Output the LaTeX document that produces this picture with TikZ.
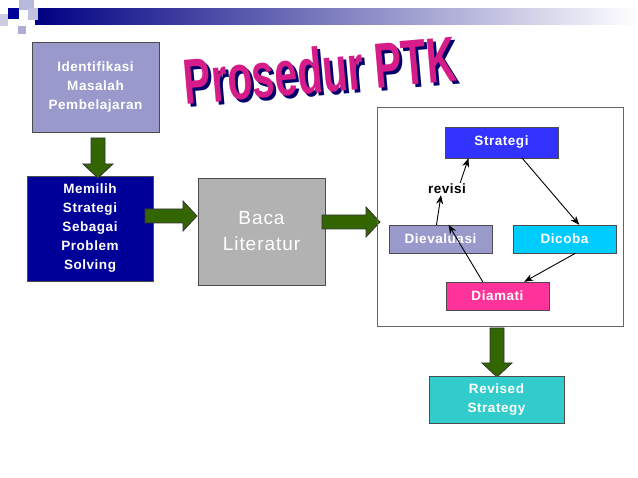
\documentclass[tikz,border=0pt]{standalone}
\usepackage{fontspec}
\setmainfont{Liberation Sans}
\usetikzlibrary{arrows.meta,shadings}
\definecolor{navy}{HTML}{000099}
\definecolor{lav}{HTML}{9999CC}
\definecolor{grn}{HTML}{336600}
\definecolor{dicoba}{HTML}{00CCFF}
\definecolor{diamati}{HTML}{FF3399}
\definecolor{revcol}{HTML}{33CCCC}
\definecolor{strcol}{HTML}{3333FF}
\newcommand{\fatarr}[4]{% x,y of tail, angle, length
  \begin{scope}[shift={(#1,#2)},rotate=#3]
  \draw[fill=grn,draw=black!80,line width=0.8pt] (0,-7) -- (#4-14,-7) -- (#4-14,-15) -- (#4,0) -- (#4-14,15) -- (#4-14,7) -- (0,7) -- cycle;
  \end{scope}}
\tikzset{
  box/.style={draw=black!70,text=white,align=center,inner sep=2pt,font=\fontsize{13.5}{19}\selectfont\bfseries\addfontfeatures{LetterSpace=4}},
  thin/.style={-{Stealth[length=9pt,width=7pt]},line width=0.9pt}
}
\begin{document}
\begin{tikzpicture}[x=1pt,y=-1pt]
\useasboundingbox (0,0) rectangle (638,478);
% header
\shade[left color=navy!85!black,right color=white] (35,9) rectangle (638,25);
\fill[navy] (8,8) rectangle (19,19);
\fill[lav!70] (19,0) rectangle (34,10);
\fill[lav!60] (28,8) rectangle (38,20);
\fill[lav!50] (0,14) rectangle (8,26);
\fill[lav!80] (18,26) rectangle (26,34);
% title
\node[rotate=5,text=navy!70!black,font=\fontsize{64}{64}\selectfont\bfseries,xscale=0.64] at (323,73) {Prosedur PTK};
\node[rotate=5,text=magenta!75!violet,font=\fontsize{64}{64}\selectfont\bfseries,xscale=0.64] (title) at (320,70) {Prosedur PTK};
% left boxes
\node[box,fill=lav,minimum width=127pt,minimum height=90pt] (ident) at (95.5,87) {Identifikasi\\Masalah\\Pembelajaran};
\node[box,fill=navy,minimum width=126pt,minimum height=105pt] (pilih) at (90,228.5) {Memilih\\Strategi\\Sebagai\\Problem\\Solving};
\node[box,fill=black!30,minimum width=127pt,minimum height=107pt,font=\fontsize{19}{26}\selectfont\addfontfeatures{LetterSpace=5}] (baca) at (261.5,231.5) {Baca\\Literatur};
\fatarr{98}{138}{-90}{40}
\fatarr{145}{216}{0}{52}
\fatarr{322}{222}{0}{58}
% frame
\node[draw=black!60,minimum width=246pt,minimum height=219pt,inner sep=0pt] (frame) at (500,216.5) {};
\node[box,fill=strcol,minimum width=113pt,minimum height=31pt] (str) at (501.5,142.5) {Strategi};
\node[box,fill=lav,minimum width=103pt,minimum height=28pt] (eval) at (440.5,239) {Dievaluasi};
\node[box,fill=dicoba,minimum width=103pt,minimum height=28pt] (coba) at (564.5,239) {Dicoba};
\node[box,fill=diamati,minimum width=103pt,minimum height=28pt] (amat) at (497.5,296) {Diamati};
\node[box,text=black,draw=none,fill=white,inner sep=1pt] (rev) at (447,189) {revisi};
\draw[thin] ([xshift=-36pt]str.south east) -- ([xshift=-37pt]coba.north east);
\draw[thin] ([xshift=11pt]coba.south) -- ([xshift=-25pt]amat.north east);
\draw[thin] ([xshift=37pt]amat.north west) -- ([xshift=8pt]eval.north);
\draw[thin] ([xshift=-4pt]eval.north) -- ([xshift=-6pt]rev.south);
\draw[thin] ([xshift=-7pt]rev.north east) -- ([xshift=-33pt]str.south);
\fatarr{497}{328}{-90}{49}
\node[box,fill=revcol,minimum width=135pt,minimum height=47pt] (revs) at (496.5,399.5) {Revised\\Strategy};
\end{tikzpicture}
\end{document}
